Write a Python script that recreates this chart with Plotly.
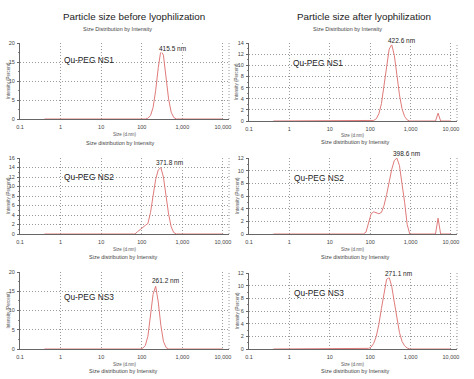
import plotly.graph_objects as go

# ---------------- data ----------------
x_tickvals = [0.1, 1, 10, 100, 1000, 10000]
x_ticktext = ["0.1", "1", "10", "100", "1,000", "10,000"]

# Before lyophilization
ns1_before_size = [0.4, 122.4, 141.8, 164.2, 190.1, 220.2, 255.0, 295.3, 342.0, 396.1, 458.7, 531.2, 615.1, 712.4, 10000]
ns1_before_int = [0, 0, 0.2, 0.9, 3.0, 7.5, 13.5, 18.0, 16.8, 11.2, 5.3, 1.8, 0.4, 0, 0]

ns2_before_size = [0.4, 68.06, 78.82, 91.28, 105.7, 122.4, 141.8, 164.2, 190.1, 220.2, 255.0, 295.3, 342.0, 396.1, 458.7, 531.2, 615.1, 712.4, 10000]
ns2_before_int = [0, 0, 0.5, 1.0, 1.4, 1.8, 2.2, 4.5, 8.0, 11.5, 13.5, 14.0, 12.0, 8.0, 4.2, 1.5, 0.3, 0, 0]

ns3_before_size = [0.4, 91.28, 105.7, 122.4, 141.8, 164.2, 190.1, 220.2, 255.0, 295.3, 342.0, 396.1, 458.7, 10000]
ns3_before_int = [0, 0, 0.2, 0.9, 3.3, 8.4, 14.2, 16.3, 12.2, 6.2, 2.0, 0.4, 0, 0]

# After lyophilization
ns1_after_size = [0.4, 105.7, 122.4, 141.8, 164.2, 190.1, 220.2, 255.0, 295.3, 342.0, 396.1, 458.7, 531.2, 615.1, 712.4, 825.0, 955.4, 4145, 4801, 5560, 10000]
ns1_after_int = [0, 0, 0.1, 0.4, 1.3, 3.1, 6.2, 10.0, 12.9, 13.7, 11.8, 8.3, 4.7, 2.2, 0.8, 0.2, 0, 0, 1.4, 0, 0]

ns2_after_size = [0.4, 68.06, 78.82, 91.28, 105.7, 122.4, 141.8, 164.2, 190.1, 220.2, 255.0, 295.3, 342.0, 396.1, 458.7, 531.2, 615.1, 712.4, 825.0, 955.4, 4145, 4801, 5560, 10000]
ns2_after_int = [0, 0, 0.3, 2.0, 3.2, 3.5, 3.4, 3.2, 3.4, 4.5, 6.2, 8.2, 10.2, 11.6, 12.0, 10.8, 8.0, 5.0, 1.5, 0, 0, 2.5, 0, 0]

ns3_after_size = [0.4, 78.82, 91.28, 105.7, 122.4, 141.8, 164.2, 190.1, 220.2, 255.0, 295.3, 342.0, 396.1, 458.7, 531.2, 615.1, 712.4, 825.0, 955.4, 10000]
ns3_after_int = [0, 0, 0.1, 0.3, 0.9, 2.0, 3.9, 6.4, 9.1, 11.0, 11.3, 9.9, 7.4, 4.7, 2.6, 1.2, 0.5, 0.15, 0, 0]

sample_names = ["Qu-PEG NS1", "Qu-PEG NS2", "Qu-PEG NS3", "Qu-PEG NS1", "Qu-PEG NS2", "Qu-PEG NS3"]
peak_labels = ["415.5 nm", "371.8 nm", "261.2 nm", "422.6 nm", "398.6 nm", "271.1 nm"]
y_max = [20, 16, 20, 14, 12, 12]
y_step = [5, 2, 5, 2, 2, 2]
col_titles = ["Particle size before lyophilization", "Particle size after lyophilization"]

series = [
    (ns1_before_size, ns1_before_int),
    (ns2_before_size, ns2_before_int),
    (ns3_before_size, ns3_before_int),
    (ns1_after_size, ns1_after_int),
    (ns2_after_size, ns2_after_int),
    (ns3_after_size, ns3_after_int),
]

# ---------------- layout geometry (pixels) ----------------
W, H = 474, 379
def px(x):
    return x / W
def py(y):
    return 1 - y / H

# (left, right, top, bottom) in px
boxes = [
    (20, 229, 43, 119),
    (20, 229, 158, 234),
    (20, 229, 272, 349),
    (249, 457, 43, 121),
    (249, 457, 158, 234),
    (249, 457, 273, 349),
]

FONT = "Liberation Sans, Arial, sans-serif"
LINE = "#e07a7a"
GRID = "#9a9a9a"

fig = go.Figure()
layout = dict(
    width=W, height=H, margin=dict(l=0, r=0, t=0, b=0, autoexpand=False),
    paper_bgcolor="white", plot_bgcolor="white", showlegend=False,
    font=dict(family=FONT, color="#333"),
)
annotations = []

for i, ((xs, ys), (l, r, t, b)) in enumerate(zip(series, boxes)):
    n = "" if i == 0 else str(i + 1)
    fig.add_trace(go.Scatter(x=xs, y=ys, mode="lines",
                             line=dict(color=LINE, width=1),
                             xaxis="x" + n, yaxis="y" + n, hoverinfo="skip"))
    layout["xaxis" + n] = dict(
        type="log", range=[-1, 4.15], domain=[px(l), px(r)], anchor="y" + n,
        tickvals=x_tickvals, ticktext=x_ticktext, automargin=False,
        tickfont=dict(size=5.5, color="#444"), ticks="", ticklabelstandoff=2,
        showgrid=True, gridcolor=GRID, griddash="1px,2px", gridwidth=1,
        showline=True, linecolor="#666", linewidth=1, mirror=False,
        zeroline=False, fixedrange=True,
    )
    layout["yaxis" + n] = dict(
        range=[0, y_max[i]], domain=[py(b), py(t)], anchor="x" + n,
        dtick=y_step[i], tickfont=dict(size=5.5, color="#444"), automargin=False,
        ticks="outside", ticklen=2, tickcolor="#666",
        minor=dict(ticks="outside", ticklen=1, tickcolor="#888", dtick=y_step[i] / 2),
        ticklabelstandoff=1,
        showgrid=True, gridcolor=GRID, griddash="1px,2px", gridwidth=1,
        showline=True, linecolor="#666", linewidth=1,
        zeroline=False, fixedrange=True,
    )
    cx = (l + r) / 2
    # x axis title
    annotations.append(dict(text="Size (d.nm)", x=px(cx), y=py(b + 15), xref="paper", yref="paper",
                            showarrow=False, font=dict(size=4.5, color="#555"), xanchor="center", yanchor="middle"))
    # y axis title
    annotations.append(dict(text="Intensity (Percent)", x=px(l - 12), y=py((t + b) / 2), xref="paper", yref="paper",
                            showarrow=False, textangle=-90, font=dict(size=4.5, color="#555"),
                            xanchor="center", yanchor="middle"))
    # right border (dotted) of the plotting frame
    layout.setdefault("shapes", []).append(dict(
        type="line", xref="x" + n + " domain", yref="y" + n + " domain", x0=1, x1=1, y0=0, y1=1,
        line=dict(color=GRID, width=1, dash="1px,2px")))

# sample names (left edge, vertical centre in px)
name_pos = [(62, 60), (62, 177), (62, 297), (291, 63), (292, 178), (292, 293)]
for (x0, y0), lab in zip(name_pos, sample_names):
    annotations.append(dict(text=lab, x=px(x0), y=py(y0), xref="paper", yref="paper",
                            showarrow=False, font=dict(size=8.3, color="#222"), xanchor="left", yanchor="middle"))

# peak labels (pixel positions)
peak_pos = [(172, 48), (169, 162), (165, 280), (401, 40), (406, 153), (398, 273)]
for (x0, y0), lab in zip(peak_pos, peak_labels):
    annotations.append(dict(text=lab, x=px(x0), y=py(y0), xref="paper", yref="paper",
                            showarrow=False, font=dict(size=6.5, color="#222"), xanchor="center", yanchor="middle",
                            bgcolor="white", borderpad=0))

# "Size distribution by intensity" captions
captions = [
    ("Size Distribution by Intensity", 117, 29),
    ("Size distribution by Intensity", 120, 143),
    ("Size distribution by Intensity", 123, 257),
    ("Size distribution by Intensity", 123, 371),
    ("Size Distribution by Intensity", 347, 29),
    ("Size distribution by Intensity", 355, 142),
    ("Size distribution by Intensity", 355, 257),
    ("Size distribution by Intensity", 355, 371),
]
for txt, x0, y0 in captions:
    annotations.append(dict(text=txt, x=px(x0), y=py(y0), xref="paper", yref="paper",
                            showarrow=False, font=dict(size=5.5, color="#444"), xanchor="center", yanchor="middle"))

# column titles
annotations.append(dict(text=col_titles[0], x=px(134), y=py(16), xref="paper", yref="paper", showarrow=False,
                        font=dict(size=9.8, color="#222"), xanchor="center", yanchor="middle"))
annotations.append(dict(text=col_titles[1], x=px(364), y=py(16), xref="paper", yref="paper", showarrow=False,
                        font=dict(size=9.8, color="#222"), xanchor="center", yanchor="middle"))

layout["annotations"] = annotations
fig.update_layout(**layout)
fig.write_html("out.html", config={"displayModeBar": False, "staticPlot": True},
               post_script="document.body.style.margin='0';document.body.style.overflow='hidden';")
